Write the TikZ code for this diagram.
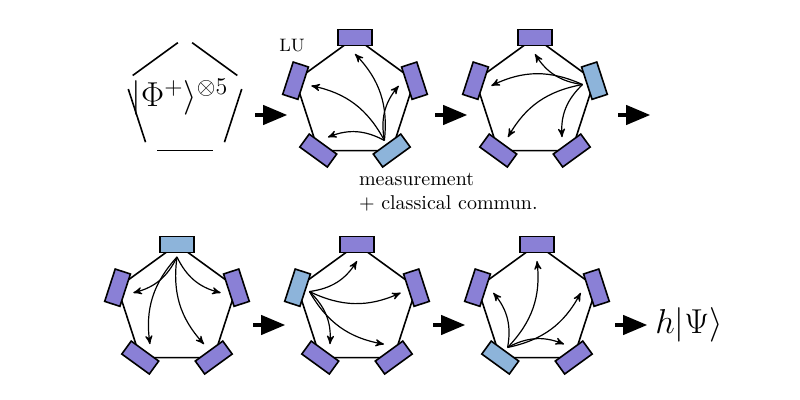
\documentclass[tikz,border=0pt]{standalone}
\usepackage{amsmath}
\usetikzlibrary{arrows}
\definecolor{lupurple}{RGB}{138,128,214}
\definecolor{lublue}{RGB}{141,180,218}
\tikzset{
  lu/.style={draw=black, thick, minimum width=17pt, minimum height=8pt, inner sep=0pt},
  step arrow/.style={-triangle 45, line width=1.8pt},
  comm/.style={->, >=stealth', semithick},
}
% \pentagon{cx}{cy}{index of the measured vertex}{name}
\newcommand{\pentagon}[4]{
  \foreach \k in {0,...,4}{
    \coordinate (#4v\k) at ($(#1,#2)+({72*\k-90}:62.5)$);
    \coordinate (#4i\k) at ($(#1,#2)+({72*\k-90}:46)$);
  }
  \draw[thick] (#4v0) -- (#4v1) -- (#4v2) -- (#4v3) -- (#4v4) -- cycle;
  \foreach \k in {0,...,4}{
    \pgfmathtruncatemacro{\isblue}{\k==#3 ? 1 : 0}
    \ifnum\isblue=1
      \node[lu, fill=lublue, rotate={-72*\k}] (#4r\k) at (#4v\k) {};
    \else
      \node[lu, fill=lupurple, rotate={-72*\k}] (#4r\k) at (#4v\k) {};
    \fi
  }
  \coordinate (#4s) at ($(#1,#2)+({72*#3-90}:50)$);
  \foreach \k in {0,...,4}{
    \pgfmathtruncatemacro{\prev}{mod(#3+4,5)}
    \ifnum\k=#3\relax\else
      \ifnum\k=\prev
        \draw[comm] (#4s) to[bend left=25] (#4i\k);
      \else
        \draw[comm] (#4s) to[bend right=25] (#4i\k);
      \fi
    \fi
  }
}
\usetikzlibrary{calc}
\begin{document}
\begin{tikzpicture}[x=0.5pt, y=-0.5pt]
  \useasboundingbox (0,0) rectangle (800,400);

  % first state: five Bell pairs
  \foreach \k in {0,...,4}{
    \coordinate (bv\k) at ($(185,100)+({72*\k-90}:62.5)$);
  }
  \foreach \k/\j in {0/1,1/2,2/3,3/4,4/0}{
    \draw[thick] ($(bv\k)!0.12!(bv\j)$) -- ($(bv\k)!0.88!(bv\j)$);
  }
  \node (bell) at (180,97) {\LARGE $|\Phi^+\rangle^{\otimes 5}$};

  \pentagon{355}{100}{2}{a}
  \pentagon{535}{100}{1}{b}
  \pentagon{177}{307}{0}{c}
  \pentagon{357}{307}{4}{d}
  \pentagon{537}{307}{3}{e}

  \node (lu) at (292,46) {\small LU};
  \node[anchor=west, align=left] (meas) at (352,192) {measurement\\+ classical commun.};
  \node (final) at (689,325) {\LARGE $h|\Psi\rangle$};

  \foreach \x/\y in {255/115, 435/115, 618/115, 253/325, 433/325, 615/325}{
    \coordinate (s) at (\x,\y);
    \draw[step arrow] (s) -- ++(32,0);
  }
\end{tikzpicture}
\end{document}
